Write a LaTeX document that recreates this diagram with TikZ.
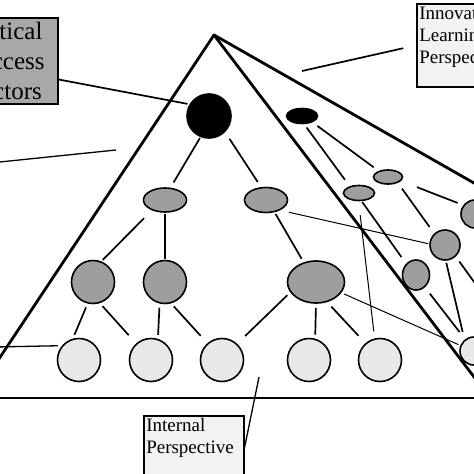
\documentclass[tikz,border=0pt]{standalone}
\usepackage{fontspec}
\setmainfont{Liberation Serif}
\usetikzlibrary{shapes.geometric}

\definecolor{midgray}{gray}{0.62}
\definecolor{lowgray}{gray}{0.91}
\definecolor{boxgray}{gray}{0.66}
\definecolor{paper}{gray}{0.95}

\begin{document}
\begin{tikzpicture}[x=1pt, y=-1pt,
	top/.style={draw, fill=black, line width=1.6pt, inner sep=0pt},
	mid/.style={draw, fill=midgray, line width=1.6pt, inner sep=0pt},
	low/.style={draw, fill=lowgray, line width=1.6pt, inner sep=0pt},
	ball/.style={circle, minimum size=#1},
	egg/.style 2 args={ellipse, minimum width=#1, minimum height=#2},
	gap/.style 2 args={shorten <=#1, shorten >=#2},
	rim/.style={line width=2.8pt, line join=round},
	link/.style={line width=1.7pt},
	faint/.style={line width=1pt},
	tag/.style={draw, line width=1.5pt, inner sep=2.5pt, align=left, font=\fontsize{19}{22}\selectfont}]
	\useasboundingbox (0,0) rectangle (474,474);
	\clip (0,0) rectangle (474,474);

	% Nodes {csf, s1, s2, m1, m2, m3, b1 .. b5} - internal face
	\node [top, ball=44pt]        (csf) at (209,116) {};
	\node [mid, egg={43pt}{24pt}] (s1)  at (165,200) {};
	\node [mid, egg={43pt}{25pt}] (s2)  at (266,200) {};
	\node [mid, ball=43pt]        (m1)  at (93,282)  {};
	\node [mid, ball=43pt]        (m2)  at (165,282) {};
	\node [mid, egg={57pt}{42pt}] (m3)  at (316,282) {};
	\node [low, ball=43pt]        (b1)  at (79,360)  {};
	\node [low, ball=43pt]        (b2)  at (151,360) {};
	\node [low, ball=43pt]        (b3)  at (222,360) {};
	\node [low, ball=43pt]        (b4)  at (309,360) {};
	\node [low, ball=43pt]        (b5)  at (380,360) {};

	% Nodes {i1 .. i7} - innovation face
	\node [top, egg={31pt}{15pt}] (i1) at (302,116) {};
	\node [mid, egg={29pt}{14pt}] (i2) at (388,177) {};
	\node [mid, egg={31pt}{15pt}] (i3) at (359,193) {};
	\node [mid, ball=28pt]        (i4) at (475,214) {};
	\node [mid, ball=30pt]        (i5) at (445,245) {};
	\node [mid, egg={27pt}{30pt}] (i6) at (416,275) {};
	\node [low, ball=28pt]        (i7) at (474,351) {};

	% Labels
	\node [tag, fill=boxgray, align=center, font=\fontsize{25}{30}\selectfont,
	       minimum width=106pt, minimum height=86pt] (csflab) at (5,61) {Critical\\Success\\Factors};
	\node [tag, fill=paper, anchor=north west, text width=125pt] (innolab) at (416,3)
	       {Innovation and\\Learning\\Perspective\rule[-21pt]{0pt}{0pt}};
	\node [tag, fill=paper, anchor=north west, text width=95pt] (intlab) at (143,415)
	       {Internal\\Perspective\rule[-24pt]{0pt}{0pt}};

	% Pyramid
	\coordinate (apex)      at (214,35);
	\coordinate (leftfoot)  at (-27,398);
	\coordinate (rightfoot) at (490,398);
	\coordinate (backfoot)  at (560,232);
	\draw [rim] (leftfoot) -- (apex) -- (rightfoot);
	\draw [rim] (apex) -- (backfoot);
	\draw [line width=2.4pt] (-30,398) -- (500,398);

	% Free ends
	\coordinate (innopt)  at (302,71);
	\coordinate (intpt)   at (259,377);
	\coordinate (custend) at (-10,163);
	\coordinate (custpt)  at (116,150);
	\coordinate (finend)  at (-5,347);
	\coordinate (offend)  at (482,293);

	% Paths
	\path [link] (csf.248) edge [gap={1pt}{6pt}]  (s1.66)
	             (csf.315) edge [gap={8pt}{6pt}]  (s2.111)
	             (s1.218)  edge [gap={11pt}{2pt}] (m1.68)
	             (s1.270)  edge [gap={1pt}{1pt}]  (m2.90)
	             (s2.305)  edge [gap={2pt}{4pt}]  (m3.122)
	             (m1.256)  edge [gap={4pt}{4pt}]  (b1.106)
	             (m1.288)  edge [gap={4pt}{11pt}] (b2.132)
	             (m2.256)  edge [gap={4pt}{4pt}]  (b2.72)
	             (m2.286)  edge [gap={4pt}{10pt}] (b3.131)
	             (m3.202)  edge [gap={4pt}{11pt}] (b3.47)
	             (m3.270)  edge [gap={4pt}{4pt}]  (b4.74)
	             (m3.299)  edge [gap={6pt}{10pt}] (b5.131);

	\path [link] (i1.285) edge [gap={4pt}{8pt}]  (i3.144)
	             (i1.329) edge [gap={6pt}{6pt}]  (i2.147)
	             (i2.343) edge [gap={17pt}{6pt}] (i4.143)
	             (i2.329) edge [gap={7pt}{8pt}]  (i5.133)
	             (i3.288) edge [gap={1pt}{8pt}]  (i6.131)
	             (i5.273) edge [gap={2pt}{8pt}]  (i7.130)
	             (i6.306) edge [gap={8pt}{9pt}]  (i7.127)
	             (i5.313) edge [gap={6pt}{0pt}]  (offend);

	\path [faint] (i3.267) edge [gap={14pt}{7pt}] (b5.104)
	              (s2.324) edge [gap={9pt}{1pt}]  (i5.176)
	              (m3.337) edge [gap={3pt}{2pt}]  (i7.158);

	\path [link] (csflab.-19)   edge [gap={0pt}{2pt}]  (csf.149)
	             (innolab.west) edge [gap={13pt}{0pt}] (innopt);
	\path [link, line width=1.3pt]
	             (intlab.east)  edge (intpt)
	             (custend)      edge (custpt)
	             (b1.140)       edge [gap={4pt}{0pt}]  (finend);
\end{tikzpicture}
\end{document}
